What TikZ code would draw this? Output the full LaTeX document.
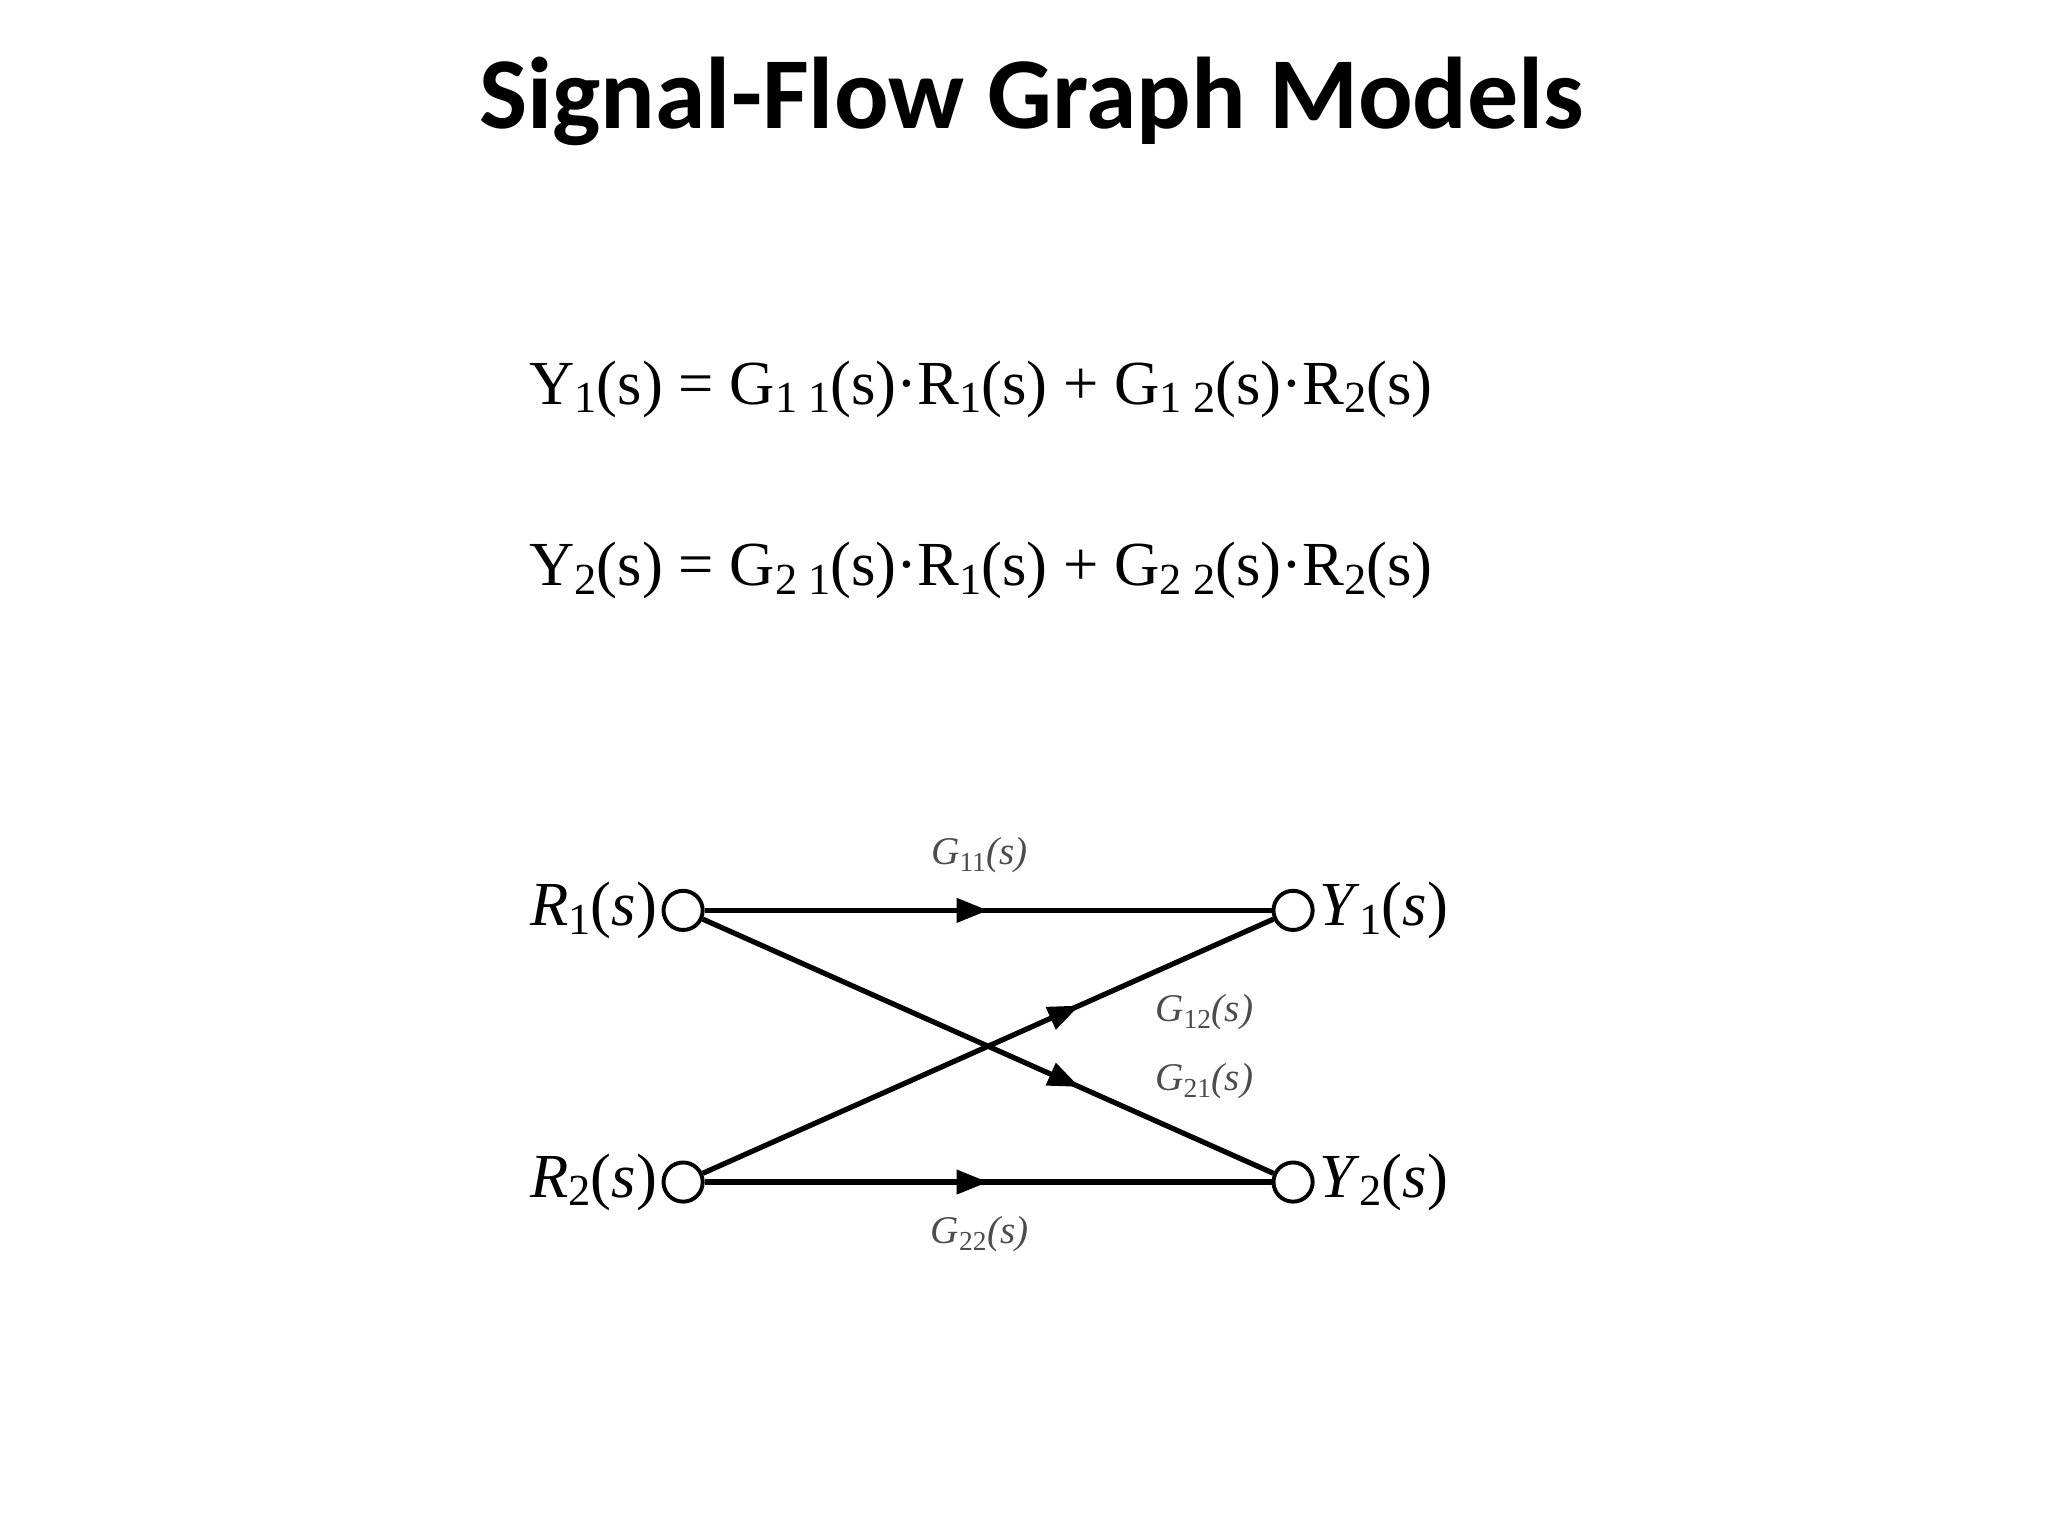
\documentclass[tikz,border=0pt]{standalone}
\usepackage{fontspec}
\setmainfont{Liberation Serif}
\newfontfamily\titlefont{Carlito}
\usetikzlibrary{decorations.markings,arrows.meta}
\newcommand{\cd}{\textperiodcentered}
\newcommand{\sbs}[1]{\raisebox{-0.3ex}{\fontsize{34}{36}\selectfont #1}}
\begin{document}
\begin{tikzpicture}[x=1pt,y=-1pt,
  sig/.style={circle,draw,line width=3pt,minimum size=30pt,inner sep=0pt},
  br/.style={line width=4pt,postaction={decorate},decoration={markings,mark=at position #1 with {\arrow{Triangle[length=24pt,width=18pt]}}}},
  gl/.style={text=black!70,font=\fontsize{30}{32}\selectfont\itshape},
  nl/.style={font=\fontsize{48}{52}\selectfont},
  eq/.style={font=\fontsize{48}{52}\selectfont}]
\useasboundingbox (0,0) rectangle (1568,1176);
\node (title) at (790,78) {\titlefont\bfseries\fontsize{78}{84}\selectfont Signal-Flow Graph Models};
\node[eq] (e1) at (751,298) {Y\sbs{1}(s) = G\sbs{1 1}(s)\cd R\sbs{1}(s) + G\sbs{1 2}(s)\cd R\sbs{2}(s)};
\node[eq] (e2) at (751,437) {Y\sbs{2}(s) = G\sbs{2 1}(s)\cd R\sbs{1}(s) + G\sbs{2 2}(s)\cd R\sbs{2}(s)};
\node[sig] (r1) at (523,697) {};
\node[sig] (y1) at (990,697) {};
\node[sig] (r2) at (523,905) {};
\node[sig] (y2) at (990,905) {};
\draw[br=0.5] (r1) -- (y1);
\draw[br=0.5] (r2) -- (y2);
\draw[br=0.66] (r1) -- (y2);
\draw[br=0.66] (r2) -- (y1);
\node[nl,left] (lr1) at (r1.west) {\textit{R}\sbs{1}(\textit{s})};
\node[nl,left] (lr2) at (r2.west) {\textit{R}\sbs{2}(\textit{s})};
\node[nl,right] (ly1) at (y1.east) {\textit{Y}\sbs{1}(\textit{s})};
\node[nl,right] (ly2) at (y2.east) {\textit{Y}\sbs{2}(\textit{s})};
\node[gl] (g11) at (750,655) {G\textsubscript{\upshape 11}(s)};
\node[gl] (g12) at (922,775) {G\textsubscript{\upshape 12}(s)};
\node[gl] (g21) at (922,828) {G\textsubscript{\upshape 21}(s)};
\node[gl] (g22) at (750,945) {G\textsubscript{\upshape 22}(s)};
\end{tikzpicture}
\end{document}
